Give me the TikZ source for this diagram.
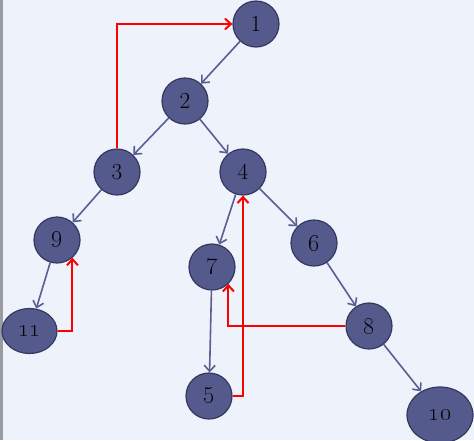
\documentclass[tikz,border=0pt]{standalone}
\usepackage{tikz}
\usepackage{xcolor}
\usetikzlibrary{shapes.geometric, arrows.meta}
\definecolor{PageBack}{HTML}{EEF2FB}
\definecolor{PageEdge}{HTML}{9A9CA4}
\definecolor{VertexFill}{HTML}{555A8C}
\definecolor{VertexLine}{HTML}{34375E}
\definecolor{TreeLine}{HTML}{5A5E92}
\definecolor{BackLine}{HTML}{FF0000}
\tikzset{
    % tree vertices
    vertex/.style={
        circle,
        draw=VertexLine,
        fill=VertexFill,
        line width=1.2pt,
        minimum size=46pt,
        inner sep=0pt,
        text=black,
        font=\fontsize{23}{26}\selectfont
    },
    vertex oval/.style={
        vertex,
        ellipse
    },
    % edges of the search tree
    tree edge/.style={
        -{Straight Barb[length=6pt,width=11pt]},
        line width=1.6pt,
        TreeLine
    },
    % back edges
    back edge/.style={
        -{Straight Barb[length=6pt,width=11pt]},
        line width=2pt,
        BackLine
    }
}
\begin{document}
\begin{tikzpicture}[x=1pt, y=-1pt]
    % background
    \useasboundingbox (0,0) rectangle (474,440);
    \fill[PageBack] (0,0) rectangle (474,440);
    \fill[PageEdge] (0,0) rectangle (3,440);

    % vertices
    \node[vertex] (n1) at (256,24) {1};
    \node[vertex] (n2) at (185,101) {2};
    \node[vertex] (n3) at (117,172) {3};
    \node[vertex] (n4) at (243,172) {4};
    \node[vertex] (n9) at (57,240) {\oldstylenums{9}};
    \node[vertex] (n7) at (212,267) {\oldstylenums{7}};
    \node[vertex] (n6) at (314,243) {\oldstylenums{6}};
    \node[vertex oval, minimum width=55pt, minimum height=45pt] (n11) at (29.5,331) {\oldstylenums{11}};
    \node[vertex] (n8) at (369,326) {\oldstylenums{8}};
    \node[vertex] (n5) at (209,396) {\oldstylenums{5}};
    \node[vertex oval, minimum width=66pt, minimum height=56pt] (n10) at (440,415) {\oldstylenums{10}};

    % tree edges
    \draw[tree edge] (n1) -- (n2);
    \draw[tree edge] (n2) -- (n3);
    \draw[tree edge] (n2) -- (n4);
    \draw[tree edge] (n3) -- (n9);
    \draw[tree edge] (n4) -- (n7);
    \draw[tree edge] (n4) -- (n6);
    \draw[tree edge] (n9) -- (n11);
    \draw[tree edge] (n7) -- (n5);
    \draw[tree edge] (n6) -- (n8);
    \draw[tree edge] (n8) -- (n10);

    % back edges
    \draw[back edge] (n3.north) |- (n1.west);
    \draw[back edge] (n11.east) -| (n9.-49);
    \draw[back edge] (n8.west) -| (n7.-46);
    \draw[back edge] (n5.east) -| (n4.south);
\end{tikzpicture}
\end{document}
